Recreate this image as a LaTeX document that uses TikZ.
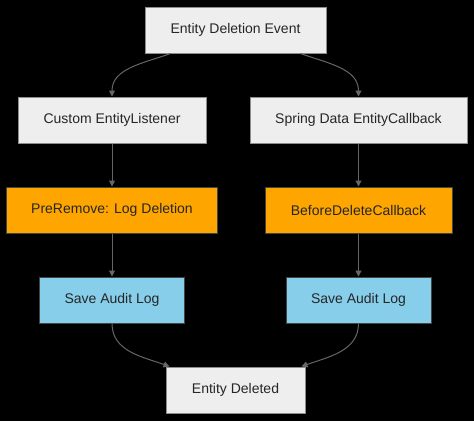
\documentclass[tikz,border=0pt]{standalone}
\usepackage{fontspec}
\setmainfont{Liberation Sans}
\usepackage{tikz}
\usetikzlibrary{arrows.meta}

\definecolor{boxgray}{HTML}{EEEEEE}
\definecolor{boxorange}{HTML}{FFA500}
\definecolor{boxblue}{HTML}{87CEEB}
\definecolor{linegray}{HTML}{666666}
\definecolor{bordergray}{HTML}{444444}

\tikzset{
    box/.style={draw=bordergray, line width=1pt, minimum height=46pt,
        inner sep=0pt, font=\fontsize{14}{16}\selectfont, text=black!85},
    plain/.style={box, fill=boxgray, draw=black!45},
    hook/.style={box, fill=boxorange},
    audit/.style={box, fill=boxblue},
    flow/.style={draw=linegray, line width=1pt, -{Triangle[width=6pt,length=6pt]}}
}

\begin{document}
\begin{tikzpicture}[x=1pt, y=-1pt]
    \useasboundingbox[fill=black] (0,0) rectangle (474,421);

    \node[plain, minimum width=181pt] (event)    at (235.5,30)  {Entity Deletion Event};
    \node[plain, minimum width=188pt] (listener) at (112,120)   {Custom EntityListener};
    \node[plain, minimum width=217pt] (callback) at (358.5,120) {Spring Data EntityCallback};
    \node[hook,  minimum width=211pt] (preremove) at (112,210) {PreRemove: Log Deletion};
    \node[hook,  minimum width=187pt] (before)   at (358.5,210) {BeforeDeleteCallback};
    \node[audit, minimum width=145pt] (auditL)   at (112,300) {Save Audit Log};
    \node[audit, minimum width=145pt] (auditR)   at (358.5,300) {Save Audit Log};
    \node[plain, minimum width=139pt] (deleted)  at (235.5,390) {Entity Deleted};

    \path
        ([xshift=-65pt]event.south)
            edge [flow, out=-160, in=90] (listener.north)
        ([xshift=65pt]event.south)
            edge [flow, out=-20, in=90] (callback.north)
        (listener)
            edge [flow] (preremove)
        (callback)
            edge [flow] (before)
        (preremove)
            edge [flow] (auditL)
        (before)
            edge [flow] (auditR)
        (auditL.south)
            edge [flow, out=-90, in=160] ([xshift=-66pt]deleted.north)
        (auditR.south)
            edge [flow, out=-90, in=20] ([xshift=66pt]deleted.north)
       ;
\end{tikzpicture}
\end{document}
